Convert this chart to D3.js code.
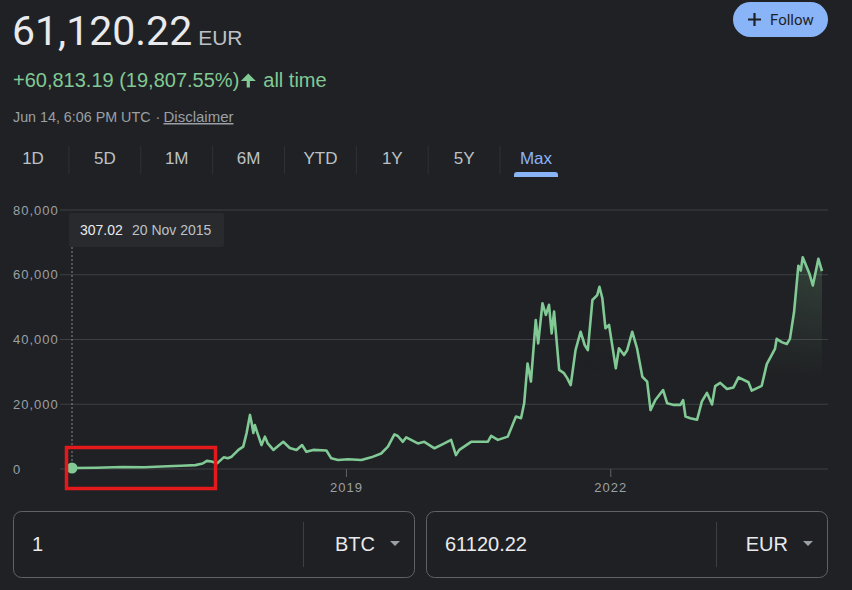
<!DOCTYPE html>
<html><head><meta charset="utf-8">
<script src="https://cdn.jsdelivr.net/npm/d3@7"></script>
<style>
html,body{margin:0;padding:0;background:#202124;}
svg{display:block;}
</style></head>
<body>
<svg id="c" width="852" height="590"></svg>
<script>
// ---- data ----
const dates = ["2015-11-20","2016-03-01","2016-06-15","2016-09-15","2016-12-20","2017-02-15","2017-04-15","2017-05-15","2017-06-01","2017-06-20","2017-07-04","2017-07-15","2017-07-25","2017-08-10","2017-08-27","2017-09-12","2017-10-10","2017-10-30","2017-11-13","2017-11-27","2017-12-04","2017-12-11","2017-12-17","2017-12-28","2018-01-14","2018-01-28","2018-02-08","2018-03-04","2018-04-14","2018-05-11","2018-06-08","2018-07-01","2018-07-19","2018-08-16","2018-10-10","2018-10-30","2018-11-27","2019-01-08","2019-03-04","2019-04-14","2019-05-25","2019-06-22","2019-07-19","2019-08-02","2019-08-23","2019-09-06","2019-09-26","2019-10-24","2019-11-20","2020-01-01","2020-02-11","2020-03-10","2020-03-30","2020-04-13","2020-06-01","2020-08-09","2020-08-23","2020-09-20","2020-10-31","2020-12-04","2020-12-25","2021-01-07","2021-01-21","2021-02-04","2021-02-24","2021-03-06","2021-03-24","2021-04-07","2021-04-20","2021-05-01","2021-05-11","2021-06-01","2021-06-21","2021-07-05","2021-07-19","2021-08-08","2021-08-29","2021-09-15","2021-09-28","2021-10-17","2021-11-06","2021-11-15","2021-11-27","2021-12-10","2021-12-25","2022-01-08","2022-01-22","2022-02-04","2022-02-25","2022-03-10","2022-03-31","2022-04-20","2022-05-12","2022-06-01","2022-06-15","2022-07-05","2022-08-06","2022-08-23","2022-09-20","2022-10-17","2022-10-28","2022-11-07","2022-11-27","2022-12-25","2023-01-14","2023-02-04","2023-02-25","2023-03-10","2023-03-31","2023-04-28","2023-05-25","2023-06-15","2023-07-26","2023-08-09","2023-09-19","2023-10-10","2023-11-13","2023-11-20","2023-12-11","2024-01-01","2024-01-14","2024-01-31","2024-02-18","2024-02-28","2024-03-07","2024-03-24","2024-04-04","2024-04-18","2024-05-01","2024-05-11","2024-05-26"];
const prices = [307,380,600,550,850,1000,1200,1700,2500,2300,2000,1800,2500,3600,3300,3800,5900,6900,11100,16700,14200,11100,13600,11100,7400,10000,8000,5900,8400,6500,5900,7400,5300,5900,5700,3300,2800,3000,2800,3600,4800,6900,10700,10200,8400,9800,9000,7900,8400,6400,7900,9000,4300,5900,8400,8400,10200,9000,10000,16200,15700,20300,32600,27000,46000,38800,51200,47600,50700,41900,48600,30600,29600,28000,25900,36700,42400,38300,36700,52200,53700,56300,52800,43500,44500,37800,31100,37300,35200,36700,42400,37300,28500,27000,18200,21300,24400,20300,19800,19800,21300,16200,15700,15200,20900,23500,19900,25600,26600,24700,25200,28300,26800,24200,25700,32400,37100,40200,39200,38600,40200,48400,62800,61300,65400,62300,60300,56700,61300,64900,61120.22];
const yTicks = [0,20000,40000,60000,80000];
const xTickDates = ["2019-01-01","2022-01-01"];
const tabs = ["1D","5D","1M","6M","YTD","1Y","5Y","Max"];
const activeTab = "Max";
const price = "61,120.22", currency = "EUR";
const change = "+60,813.19 (19,807.55%)", period = "all time";
const stamp = "Jun 14, 6:06 PM UTC", disclaimer = "Disclaimer";
const tipValue = "307.02", tipDate = "20 Nov 2015";
const fromAmount = "1", fromCur = "BTC", toAmount = "61120.22", toCur = "EUR";

// ---- setup ----
const parse = d3.timeParse("%Y-%m-%d");
const data = dates.map((d,i)=>({date:parse(d), v:prices[i]}));
const svg = d3.select("#c");
const W = 852, H = 590;
const BG = "#202124", GREEN = "#81c995", GRID = "#3c4043", MUTED = "#9aa0a6", LIGHT = "#e8eaed";
const FONT = "Roboto, Arial, sans-serif";
const AFONT = "Arial, 'Liberation Sans', sans-serif";

svg.append("rect").attr("width",W).attr("height",H).attr("fill",BG);

// ---- header ----
const big = svg.append("text").attr("x",12).attr("y",45).attr("font-family",FONT)
  .attr("fill",LIGHT).attr("font-size",41).text(price);
const bw = big.node().getComputedTextLength();
svg.append("text").attr("x",12+bw+6).attr("y",45).attr("font-family",AFONT)
  .attr("fill","#bdc1c6").attr("font-size",21).text(currency);

const ch = svg.append("text").attr("x",13).attr("y",87).attr("font-family",AFONT)
  .attr("fill",GREEN).attr("font-size",20).text(change);
const cw = ch.node().getComputedTextLength();
const ax = 13 + cw + 9;
svg.append("path")
  .attr("d",`M${ax-7.5} 81 L${ax} 73.5 L${ax+7.5} 81 Z M${ax-1.6} 79 h3.2 v8.5 h-3.2 Z`)
  .attr("fill",GREEN);
svg.append("text").attr("x",13+cw+24).attr("y",87).attr("font-family",AFONT)
  .attr("fill",GREEN).attr("font-size",20).text(period);

const st = svg.append("text").attr("x",13).attr("y",122).attr("font-family",AFONT)
  .attr("fill",MUTED).attr("font-size",14.3).text(stamp);
const sw = st.node().getComputedTextLength();
svg.append("text").attr("x",13+sw+5).attr("y",122).attr("font-family",AFONT)
  .attr("fill",MUTED).attr("font-size",14.3).text("·");
svg.append("text").attr("x",13+sw+13).attr("y",122).attr("font-family",AFONT)
  .attr("fill",MUTED).attr("font-size",15).attr("text-decoration","underline").text(disclaimer);

// follow button
svg.append("rect").attr("x",733).attr("y",2).attr("width",95).attr("height",35).attr("rx",17.5).attr("fill","#8ab4f8");
svg.append("path").attr("d","M748 19.5h13M754.5 13v13").attr("stroke","#202124").attr("stroke-width",2.2);
svg.append("text").attr("x",770).attr("y",25).attr("font-family",FONT).attr("font-size",15)
  .attr("fill","#202124").text("Follow");

// ---- tabs ----
const tabX = d3.scalePoint().domain(tabs).range([33,536]);
const tg = svg.append("g");
tabs.forEach((t,i)=>{
  tg.append("text").attr("x",tabX(t)).attr("y",164).attr("text-anchor","middle")
    .attr("font-family",AFONT).attr("font-size",17)
    .attr("fill", t===activeTab ? "#8ab4f8" : "#bdc1c6").text(t);
  if(i>0){
    const sx = (tabX(tabs[i-1])+tabX(t))/2;
    tg.append("line").attr("x1",sx).attr("x2",sx).attr("y1",146).attr("y2",174)
      .attr("stroke","#303134").attr("stroke-width",1);
  }
});
svg.append("path").attr("d",`M${tabX(activeTab)-22} 177 v-2 a3 3 0 0 1 3 -3 h38 a3 3 0 0 1 3 3 v2 z`)
  .attr("fill","#8ab4f8");

// ---- chart ----
const x = d3.scaleTime().domain(d3.extent(data,d=>d.date)).range([72,822]);
const y = d3.scaleLinear().domain([0,80000]).range([469,210]);

const grid = svg.append("g");
yTicks.forEach(t=>{
  grid.append("line").attr("x1",60).attr("x2",828).attr("y1",y(t)).attr("y2",y(t))
    .attr("stroke",GRID).attr("stroke-width",1);
  grid.append("text").attr("x",13).attr("y",y(t)+4.5).attr("font-family",AFONT).attr("font-size",13)
    .attr("letter-spacing",1).attr("fill",MUTED).text(d3.format(",")(t));
});
xTickDates.map(parse).forEach(d=>{
  grid.append("line").attr("x1",x(d)).attr("x2",x(d)).attr("y1",469).attr("y2",477)
    .attr("stroke","#5f6368").attr("stroke-width",1);
  grid.append("text").attr("x",x(d)).attr("y",492).attr("text-anchor","middle")
    .attr("font-family",AFONT).attr("font-size",13).attr("letter-spacing",1)
    .attr("fill",MUTED).text(d3.timeFormat("%Y")(d));
});

// gradient fill
const defs = svg.append("defs");
const hg = defs.append("linearGradient").attr("id","hg").attr("gradientUnits","userSpaceOnUse")
  .attr("x1",560).attr("x2",822).attr("y1",0).attr("y2",0);
hg.append("stop").attr("offset",0).attr("stop-color",GREEN).attr("stop-opacity",0);
hg.append("stop").attr("offset",1).attr("stop-color",GREEN).attr("stop-opacity",0.2);
const vg = defs.append("linearGradient").attr("id","vg").attr("gradientUnits","userSpaceOnUse")
  .attr("x1",0).attr("x2",0).attr("y1",y(65000)).attr("y2",y(28000));
vg.append("stop").attr("offset",0).attr("stop-color","#fff");
vg.append("stop").attr("offset",1).attr("stop-color","#000");
defs.append("mask").attr("id","vm").append("rect").attr("x",0).attr("y",0).attr("width",W).attr("height",H).attr("fill","url(#vg)");

const area = d3.area().x(d=>x(d.date)).y0(y(0)).y1(d=>y(d.v));
svg.append("path").datum(data).attr("d",area).attr("fill","url(#hg)").attr("mask","url(#vm)");

const line = d3.line().x(d=>x(d.date)).y(d=>y(d.v));
svg.append("path").datum(data).attr("d",line).attr("fill","none").attr("stroke",GREEN)
  .attr("stroke-width",2.6).attr("stroke-linejoin","round");

// hover marker + tooltip
const first = data[0];
svg.append("line").attr("x1",x(first.date)).attr("x2",x(first.date)).attr("y1",247).attr("y2",y(0))
  .attr("stroke",MUTED).attr("stroke-width",1).attr("stroke-dasharray","2,2").attr("opacity",0.8);
svg.append("circle").attr("cx",x(first.date)).attr("cy",y(first.v)).attr("r",5.5).attr("fill",GREEN);
svg.append("rect").attr("x",69).attr("y",213).attr("width",155).attr("height",34).attr("rx",2).attr("fill","#292a2d");
svg.append("text").attr("x",80).attr("y",235).attr("font-family",AFONT).attr("font-size",14)
  .attr("fill",LIGHT).text(tipValue);
svg.append("text").attr("x",132).attr("y",235).attr("font-family",AFONT).attr("font-size",14)
  .attr("fill","#bdc1c6").text(tipDate);

// red annotation box
svg.append("rect").attr("x",66.5).attr("y",447.5).attr("width",149).attr("height",41)
  .attr("fill","none").attr("stroke","#e3191c").attr("stroke-width",3.5);

// ---- converter ----
function box(x0, amount, cur){
  svg.append("rect").attr("x",x0+0.5).attr("y",511.5).attr("width",401).attr("height",66).attr("rx",8)
    .attr("fill","#1f2023").attr("stroke","#5f6368").attr("stroke-width",1);
  svg.append("text").attr("x",x0+19).attr("y",551).attr("font-family",AFONT).attr("font-size",20)
    .attr("fill",LIGHT).text(amount);
  svg.append("line").attr("x1",x0+290.5).attr("x2",x0+290.5).attr("y1",522).attr("y2",567)
    .attr("stroke","#3c4043");
  svg.append("text").attr("x",x0+362).attr("y",551).attr("text-anchor","end").attr("font-family",AFONT)
    .attr("font-size",20).attr("fill",LIGHT).text(cur);
  svg.append("path").attr("d",`M${x0+377} 541 h10 l-5 5 z`).attr("fill",MUTED);
}
box(13, fromAmount, fromCur);
box(426, toAmount, toCur);
</script>
</body></html>
